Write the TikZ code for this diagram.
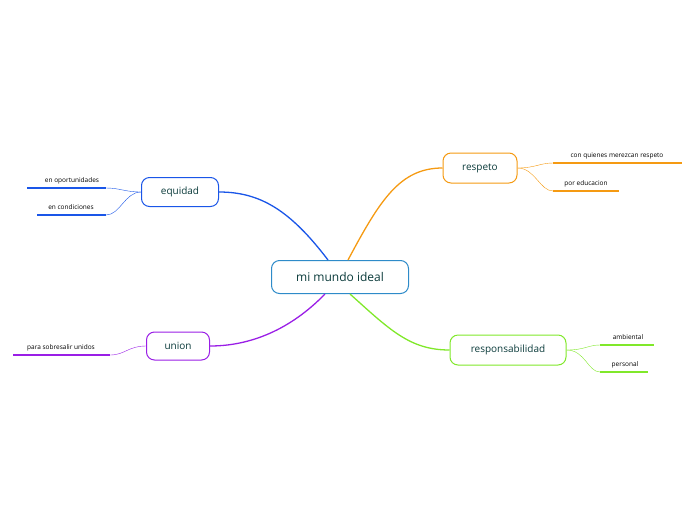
\documentclass[tikz,border=0pt]{standalone}
\usepackage{fontspec}
\setmainfont{Open Sans}
\definecolor{cmain}{HTML}{2E8BC9}
\definecolor{cblue}{HTML}{1A56E8}
\definecolor{corange}{HTML}{F59A12}
\definecolor{cgreen}{HTML}{80E82A}
\definecolor{cpurple}{HTML}{9A1EE6}
\definecolor{ctext}{HTML}{0B3B3B}
\begin{document}
\begin{tikzpicture}[x=1pt,y=-1pt,
  topic/.style={draw=#1,line width=1pt,rounded corners=8pt,fill=white,text=ctext,font=\fontsize{10}{12}\selectfont,inner sep=0pt},
  leaf/.style={font=\fontsize{6.5}{8}\selectfont,text=black,anchor=base},
  branch/.style={draw=#1,line width=1.3pt},
  twig/.style={draw=#1,line width=0.4pt},
  under/.style={draw=#1,line width=1.6pt}]
\useasboundingbox (0,0) rectangle (696,520);
% central
\node[topic=cmain,minimum width=137pt,minimum height=33pt,font=\fontsize{12}{14}\selectfont] (c) at (340,277) {mi mundo ideal};
\node[topic=cblue,minimum width=77pt,minimum height=29pt] (eq) at (180,192) {equidad};
\node[topic=corange,minimum width=74pt,minimum height=30pt] (re) at (480,168) {respeto};
\node[topic=cgreen,minimum width=116pt,minimum height=30pt] (rs) at (508,350) {responsabilidad};
\node[topic=cpurple,minimum width=63pt,minimum height=28pt] (un) at (178,346) {union};
% branches
\coordinate (c1) at (328,260); \coordinate (c2) at (348,260);
\coordinate (c3) at (350,294); \coordinate (c4) at (325,294);
\draw[branch=cblue] (c1) .. controls (290,210) and (260,192) .. (eq.east);
\draw[branch=corange] (c2) .. controls (380,200) and (400,168) .. (re.west);
\draw[branch=cgreen] (c3) .. controls (390,330) and (410,350) .. (rs.west);
\draw[branch=cpurple] (c4) .. controls (290,330) and (250,346) .. (un.east);
% leaves
\node[leaf] (l1) at (72,182) {en oportunidades};
\coordinate (a1) at (27,188); \coordinate (b1) at (106,188);
\draw[under=cblue] (a1) -- (b1);
\draw[twig=cblue] (eq.west) .. controls (125,192) and (120,188) .. (b1);
\node[leaf] (l2) at (71,209) {en condiciones};
\coordinate (a2) at (37,215); \coordinate (b2) at (106,215);
\draw[under=cblue] (a2) -- (b2);
\draw[twig=cblue] (eq.west) .. controls (125,192) and (120,215) .. (b2);
\node[leaf] (l3) at (617,157) {con quienes merezcan respeto};
\coordinate (a3) at (553,163); \coordinate (b3) at (682,163);
\draw[under=corange] (a3) -- (b3);
\draw[twig=corange] (re.east) .. controls (535,168) and (540,163) .. (a3);
\node[leaf] (l4) at (586,185) {por educacion};
\coordinate (a4) at (553,191); \coordinate (b4) at (619,191);
\draw[under=corange] (a4) -- (b4);
\draw[twig=corange] (re.east) .. controls (535,168) and (540,191) .. (a4);
\node[leaf] (l5) at (628,339) {ambiental};
\coordinate (a5) at (600,345); \coordinate (b5) at (654,345);
\draw[under=cgreen] (a5) -- (b5);
\draw[twig=cgreen] (rs.east) .. controls (585,350) and (588,345) .. (a5);
\node[leaf] (l6) at (625,366) {personal};
\coordinate (a6) at (600,372); \coordinate (b6) at (648,372);
\draw[under=cgreen] (a6) -- (b6);
\draw[twig=cgreen] (rs.east) .. controls (585,350) and (588,372) .. (a6);
\node[leaf] (l7) at (61,349) {para sobresalir unidos};
\coordinate (a7) at (13,355); \coordinate (b7) at (110,355);
\draw[under=cpurple] (a7) -- (b7);
\draw[twig=cpurple] (un.west) .. controls (128,346) and (125,355) .. (b7);
\end{tikzpicture}
\end{document}
